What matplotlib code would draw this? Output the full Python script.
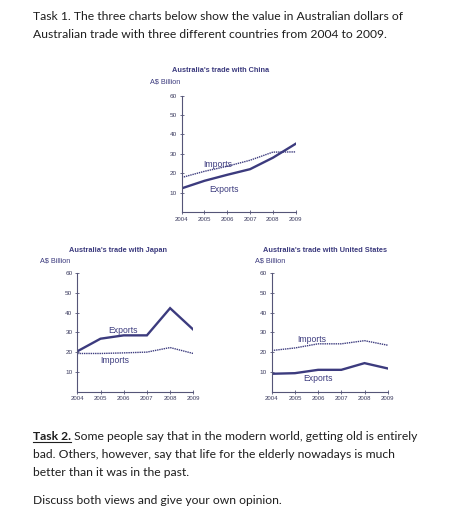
import matplotlib
matplotlib.use('Agg')
import matplotlib.pyplot as plt
from matplotlib.lines import Line2D

W, H = 468, 512

years = [2004, 2005, 2006, 2007, 2008, 2009]
china_exports = [12.2, 16.1, 19.2, 22.1, 28.0, 35.2]
china_imports = [17.8, 21.0, 23.6, 26.7, 30.9, 31.0]
japan_exports = [20.4, 26.8, 28.5, 28.5, 42.3, 31.4]
japan_imports = [19.3, 19.3, 19.6, 20.0, 22.3, 19.3]
us_exports = [9.0, 9.3, 11.0, 11.0, 14.4, 11.7]
us_imports = [20.8, 22.1, 24.2, 24.2, 25.8, 23.5]
y_ticks = [10, 20, 30, 40, 50, 60]

NAVY = '#3c3b7e'
TEXT = '#1e1e1e'
BODY_FONT = ['Lato', 'DejaVu Sans']
SMALL_FONT = ['Liberation Sans Narrow', 'Liberation Sans', 'DejaVu Sans']
BODY_SIZE = 8.7


def fx(px):
    return px / W


def fy(py):
    return 1 - py / H


def trade_chart(fig, rect, title, title_xy, unit_xy, exports, imports, exp_lab, imp_lab):
    ax = fig.add_axes(rect)
    ax.plot(years, exports, color=NAVY, lw=1.7, solid_joinstyle='miter')
    ax.plot(years, imports, color=NAVY, lw=1.0, ls=(0, (1, 0.6)))
    ax.set_xlim(2004, 2009)
    ax.set_ylim(0, 60)
    ax.set_xticks(years)
    ax.set_yticks(y_ticks)
    ax.set_xticklabels([str(y) for y in years], family=SMALL_FONT, fontsize=4.3, color='#3a3a5e')
    ax.set_yticklabels([str(v) for v in y_ticks], family=SMALL_FONT, fontsize=4.6, color='#3a3a5e')
    ax.tick_params(direction='inout', length=3, width=0.6, color='#555577', pad=2)
    for side in ('top', 'right'):
        ax.spines[side].set_visible(False)
    for side in ('left', 'bottom'):
        ax.spines[side].set_color('#555577')
        ax.spines[side].set_linewidth(0.8)
    ax.text(exp_lab[0], exp_lab[1], 'Exports', family=SMALL_FONT, fontsize=6.2, color=NAVY,
            ha='left', va='center')
    ax.text(imp_lab[0], imp_lab[1], 'Imports', family=SMALL_FONT, fontsize=6.2, color=NAVY,
            ha='left', va='center')
    fig.text(fx(title_xy[0]), fy(title_xy[1]), title, family=SMALL_FONT, fontsize=5.3,
             fontweight='bold', color=NAVY, ha='center', va='center')
    fig.text(fx(unit_xy[0]), fy(unit_xy[1]), 'A$ Billion', family=SMALL_FONT, fontsize=5.2,
             color=NAVY, ha='left', va='center')
    return ax


fig = plt.figure(figsize=(W / 100, H / 100), dpi=100)

# header text
fig.text(fx(33), fy(16), 'Task 1. The three charts below show the value in Australian dollars of',
         family=BODY_FONT, fontsize=BODY_SIZE, color=TEXT, va='center')
fig.text(fx(33), fy(34), 'Australian trade with three different countries from 2004 to 2009.',
         family=BODY_FONT, fontsize=BODY_SIZE, color=TEXT, va='center')

trade_chart(fig, [fx(181.7), fy(212), fx(114), 116.3 / H],
            "Australia's trade with China", (221, 70), (150, 82),
            china_exports, china_imports, (2005.2, 11.5), (2004.95, 24.6))
trade_chart(fig, [fx(77.3), fy(391.5), fx(116), 118.2 / H],
            "Australia's trade with Japan", (118, 250), (40, 261),
            japan_exports, japan_imports, (2005.34, 30.9), (2005.0, 15.7))
trade_chart(fig, [fx(271.7), fy(391.5), fx(116), 118.2 / H],
            "Australia's trade with United States", (325, 250), (255, 261),
            us_exports, us_imports, (2005.35, 6.6), (2005.08, 26.3))

# task 2 text
t1 = fig.text(fx(33), fy(436), 'Task 2.', family=BODY_FONT, fontsize=BODY_SIZE, fontweight='bold',
              color=TEXT, va='center')
fig.canvas.draw()
bb = t1.get_window_extent()
fig.text(bb.x1 / W, fy(436), ' Some people say that in the modern world, getting old is entirely',
         family=BODY_FONT, fontsize=BODY_SIZE, color=TEXT, va='center')
fig.add_artist(Line2D([bb.x0 / W, bb.x1 / W], [(bb.y0 - 0.5) / H] * 2, color=TEXT, lw=0.8))
fig.text(fx(33), fy(454.5), 'bad. Others, however, say that life for the elderly nowadays is much',
         family=BODY_FONT, fontsize=BODY_SIZE, color=TEXT, va='center')
fig.text(fx(33), fy(473), 'better than it was in the past.',
         family=BODY_FONT, fontsize=BODY_SIZE, color=TEXT, va='center')
fig.text(fx(33), fy(501), 'Discuss both views and give your own opinion.',
         family=BODY_FONT, fontsize=BODY_SIZE, color=TEXT, va='center')

fig.savefig('out.png', dpi=100, facecolor='white')
